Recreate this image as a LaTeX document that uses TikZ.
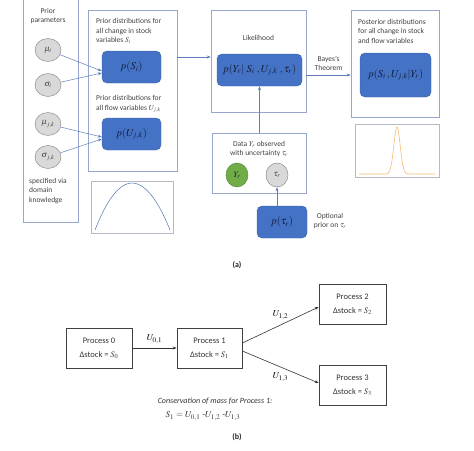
\documentclass[tikz,border=0pt]{standalone}
\usepackage{mathptmx}
\usepackage{fontspec}
\setmainfont{Carlito}
\usetikzlibrary{shapes.geometric,arrows.meta}
\definecolor{panelc}{RGB}{150,166,204}
\definecolor{plotc}{RGB}{180,185,196}
\definecolor{distblue}{RGB}{68,114,196}
\definecolor{distedge}{RGB}{58,98,172}
\definecolor{disttext}{RGB}{18,28,60}
\definecolor{paramfill}{RGB}{217,217,217}
\definecolor{paramedge}{RGB}{125,125,125}
\definecolor{obsgreen}{RGB}{112,173,71}
\definecolor{obsedge}{RGB}{80,130,50}
\definecolor{linkc}{RGB}{96,124,190}
\definecolor{notec}{RGB}{64,64,64}
\definecolor{curvec}{RGB}{80,120,170}
\definecolor{gaussc}{RGB}{246,186,110}
\tikzset{
  >={Stealth[length=4pt,width=3pt]},
  panel/.style={draw=panelc, line width=0.6pt, inner sep=0pt},
  dist/.style={draw=distedge, fill=distblue, rounded corners=5pt, inner sep=0pt, text=disttext, font=\fontsize{10.5}{11}\selectfont},
  param/.style={ellipse, draw=paramedge, fill=paramfill, minimum width=26pt, minimum height=23pt, inner sep=0pt, text=notec, font=\fontsize{8.5}{9}\selectfont},
  note/.style={text=notec, font=\fontsize{7.5}{9.5}\selectfont, align=left, inner sep=1pt},
  proc/.style={draw=black!75, line width=0.7pt, minimum width=66pt, minimum height=40pt, inner sep=0pt, align=center, text=black!80, font=\fontsize{8.5}{14}\selectfont},
  link/.style={->, draw=linkc, line width=0.5pt},
  flow/.style={->, draw=black!80, line width=0.6pt},
  fig/.style={text=black!85, font=\bfseries\fontsize{8}{9}\selectfont}
}
\begin{document}
\begin{tikzpicture}[x=1pt, y=-1pt]
\useasboundingbox (0,0) rectangle (474,450);
\node (prm) at (50.5, 108.5) [panel, minimum width=55pt, minimum height=227pt] {};
\node (prmtxt) at (48, 16) [note, align=center] {Prior\\parameters};
\node (mui) at (48, 50) [param] {$\mu_i$};
\node (sigi) at (48, 85) [param] {$\sigma_i$};
\node (mujk) at (48, 124) [param] {$\mu_{j,k}$};
\node (sigjk) at (48, 157) [param] {$\sigma_{j,k}$};
\node (domain) at (28, 191) [note, anchor=west] {specified via\\domain\\knowledge};

\node (prior) at (132.5, 90.5) [panel, minimum width=89pt, minimum height=161pt] {};
\node (priorS) at (95, 31) [note, anchor=west] {Prior distributions for\\all change in stock\\variables $S_i$};
\node (pS) at (131.5, 67) [dist, minimum width=59pt, minimum height=32pt] {$p(S_i)$};
\node (priorU) at (95, 104) [note, anchor=west] {Prior distributions for\\all flow variables $U_{j,k}$};
\node (pU) at (131.5, 134) [dist, minimum width=59pt, minimum height=32pt] {$p(U_{j,k})$};
\node (parab) at (132, 207) [panel, draw=plotc, minimum width=82pt, minimum height=52pt] {};
\draw[curvec, line width=0.5pt] (95,230) parabola bend (132,183) (170,230);

\node (lik) at (258.5, 61) [panel, minimum width=95pt, minimum height=102pt] {};
\node (liktxt) at (258.5, 38) [note] {Likelihood};
\node (pY) at (259.5, 70) [dist, minimum width=85pt, minimum height=32pt] {$p(Y_r|\;S_i\;,U_{j,k}\;,\tau_r)$};

\node (post) at (395, 63.5) [panel, minimum width=88pt, minimum height=107pt] {};
\node (posttxt) at (357, 31) [note, anchor=west] {Posterior distributions\\for all change in stock\\and flow variables};
\node (pSU) at (395.5, 75) [dist, minimum width=71pt, minimum height=44pt] {$p(S_i\,,U_{j,k}|Y_r)$};
\node (gauss) at (397, 150.5) [panel, draw=plotc, minimum width=84pt, minimum height=53pt] {};
\draw[gaussc, line width=0.6pt] plot[domain=-38:38, samples=120] ({397+\x}, {174-47*exp(-(\x/4.5)^2)});

\node (data) at (259, 163) [panel, minimum width=94pt, minimum height=60pt] {};
\node (datatxt) at (259, 149) [note, align=center] {Data $Y_r$ observed\\with uncertainty $\tau_r$};
\node (Yr) at (237, 175) [param, fill=obsgreen, draw=obsedge, text=disttext, minimum width=22pt, minimum height=24pt] {$Y_r$};
\node (taur) at (277, 175) [param, minimum width=22pt, minimum height=24pt] {$\tau_r$};
\node (ptau) at (282, 222) [dist, minimum width=50pt, minimum height=32pt] {$p(\tau_r)$};
\node (opt) at (330, 221) [note, align=center] {Optional\\prior on $\tau_r$};
\node (lbla) at (237, 265) [fig] {(a)};

\coordinate (likin) at ([yshift=4pt]lik.west);
\draw[link] (mui) -- ([yshift=-4pt]pS.west);
\draw[link] (sigi) -- ([yshift=-6pt]pS.west);
\draw[link] (mujk) -- ([yshift=-3pt]pU.west);
\draw[link] (sigjk) -- ([yshift=-5pt]pU.west);
\draw[link] (prior.east |- likin) -- (likin);
\draw[link] (lik.east |- pSU) -- node[note, above=3pt, align=center] {Bayes's\\Theorem} (post.west |- pSU);
\draw[link] (data.north -| pY) -- (pY.south);
\draw[link] (taur |- ptau.north) -- (taur);

\node (p0) at (99, 348) [proc] {Process 0\\Δstock = $S_0$};
\node (p1) at (209.5, 348) [proc, minimum width=65pt] {Process 1\\Δstock = $S_1$};
\node (p2) at (352.5, 304) [proc, minimum width=67pt] {Process 2\\Δstock = $S_2$};
\node (p3) at (352.5, 385) [proc, minimum width=67pt] {Process 3\\Δstock = $S_3$};

\draw[flow] (p0) -- node[above=1pt, font=\fontsize{9}{10}\selectfont] {$U_{0,1}$} (p1);
\draw[flow] ([yshift=5pt]p1.east) -- node[above=2pt, font=\fontsize{9}{10}\selectfont] {$U_{1,2}$} ([yshift=-3pt]p2.west);
\draw[flow] ([yshift=-3pt]p1.east) -- node[below=2pt, font=\fontsize{9}{10}\selectfont] {$U_{1,3}$} ([yshift=2pt]p3.west);

\node (cons) at (215, 401) [text=black!80, font=\itshape\fontsize{8}{9}\selectfont] {Conservation of mass for Process 1:};
\node (bal) at (203, 416) [text=black!80, font=\fontsize{9}{10}\selectfont] {$S_1 = U_{0,1}$ -$U_{1,2}$ -$U_{1,3}$};
\node (lblb) at (237, 437) [fig] {(b)};
\end{tikzpicture}
\end{document}
